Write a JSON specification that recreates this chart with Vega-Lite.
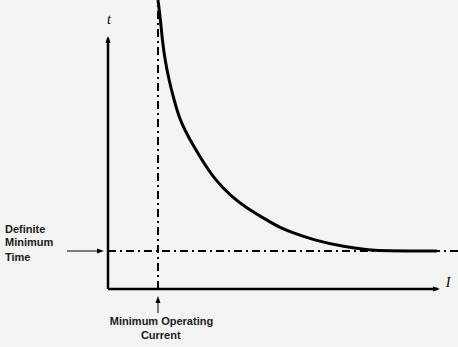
{
  "$schema": "https://vega.github.io/schema/vega-lite/v6.json",
  "width": 458,
  "height": 347,
  "autosize": "none",
  "padding": 0,
  "background": "#f4f4f4",
  "config": {"view": {"stroke": null}},
  "encoding": {
    "x": {"field": "I", "type": "quantitative", "scale": {"domain": [-2.16, 7], "nice": false, "zero": false}, "axis": null},
    "y": {"field": "t", "type": "quantitative", "scale": {"domain": [-1.526, 7.605], "nice": false, "zero": false}, "axis": null}
  },
  "layer": [
    {
      "data": {"values": [
        {"I": 0, "t": 0, "I2": 0, "t2": 6.6},
        {"I": 0, "t": 0, "I2": 6.6, "t2": 0}
      ]},
      "mark": {"type": "rule", "color": "#000000", "strokeWidth": 2.5},
      "encoding": {"x2": {"field": "I2"}, "y2": {"field": "t2"}}
    },
    {
      "data": {"values": [
        {"I": 1, "t": 0, "I2": 1, "t2": 7.605},
        {"I": 0, "t": 1, "I2": 7, "t2": 1}
      ]},
      "mark": {"type": "rule", "color": "#000000", "strokeWidth": 2, "strokeDash": [8, 4, 2, 4]},
      "encoding": {"x2": {"field": "I2"}, "y2": {"field": "t2"}}
    },
    {
      "data": {"values": [
        {"I": -0.82, "t": 1, "I2": -0.14, "t2": 1},
        {"I": 1, "t": -0.632, "I2": 1, "t2": -0.25}
      ]},
      "mark": {"type": "rule", "color": "#000000", "strokeWidth": 1},
      "encoding": {"x2": {"field": "I2"}, "y2": {"field": "t2"}}
    },
    {
      "data": {"values": [
        {"I": 1.0, "t": 7.605},
        {"I": 1.05, "t": 7.079},
        {"I": 1.086, "t": 6.553},
        {"I": 1.14, "t": 6.026},
        {"I": 1.22, "t": 5.5},
        {"I": 1.32, "t": 4.974},
        {"I": 1.44, "t": 4.447},
        {"I": 1.54, "t": 4.184},
        {"I": 1.64, "t": 3.921},
        {"I": 1.854, "t": 3.447},
        {"I": 2.14, "t": 2.868},
        {"I": 2.474, "t": 2.429},
        {"I": 2.774, "t": 2.132},
        {"I": 3.14, "t": 1.842},
        {"I": 3.44, "t": 1.613},
        {"I": 3.64, "t": 1.508},
        {"I": 4.1, "t": 1.289},
        {"I": 4.774, "t": 1.097},
        {"I": 5.24, "t": 1.026},
        {"I": 5.5, "t": 1.0},
        {"I": 6.574, "t": 1.0}
      ]},
      "mark": {"type": "line", "color": "#000000", "strokeWidth": 3, "interpolate": "basis"}
    },
    {
      "data": {"values": [
        {"I": 0, "t": 6.658},
        {"I": 1, "t": -0.184}
      ]},
      "mark": {"type": "point", "filled": true, "color": "#000000", "opacity": 1, "size": 16, "shape": "M0,0L1.25,3.5L-1.25,3.5Z"}
    },
    {
      "data": {"values": [
        {"I": 6.64, "t": 0},
        {"I": -0.08, "t": 1}
      ]},
      "mark": {"type": "point", "filled": true, "color": "#000000", "opacity": 1, "size": 16, "shape": "M0,0L-3.5,1.25L-3.5,-1.25Z"}
    },
    {
      "data": {"values": [
        {"I": 0.02, "t": 7.08, "label": "t"},
        {"I": 6.8, "t": 0.158, "label": "I"}
      ]},
      "mark": {"type": "text", "font": "Liberation Serif", "fontStyle": "italic", "fontSize": 14, "align": "center", "baseline": "middle", "color": "#000000"},
      "encoding": {"text": {"field": "label"}}
    },
    {
      "data": {"values": [
        {"I": -2.06, "t": 1.553, "label": "Definite"},
        {"I": -2.06, "t": 1.211, "label": "Minimum"},
        {"I": -2.06, "t": 0.816, "label": "Time"}
      ]},
      "mark": {"type": "text", "font": "Liberation Sans", "fontWeight": "bold", "fontSize": 11, "align": "left", "baseline": "middle", "color": "#1a1a1a"},
      "encoding": {"text": {"field": "label"}}
    },
    {
      "data": {"values": [
        {"I": 1.07, "t": -0.868, "label": "Minimum Operating"},
        {"I": 1.055, "t": -1.237, "label": "Current"}
      ]},
      "mark": {"type": "text", "font": "Liberation Sans", "fontWeight": "bold", "fontSize": 11, "align": "center", "baseline": "middle", "color": "#1a1a1a"},
      "encoding": {"text": {"field": "label"}}
    }
  ]
}
